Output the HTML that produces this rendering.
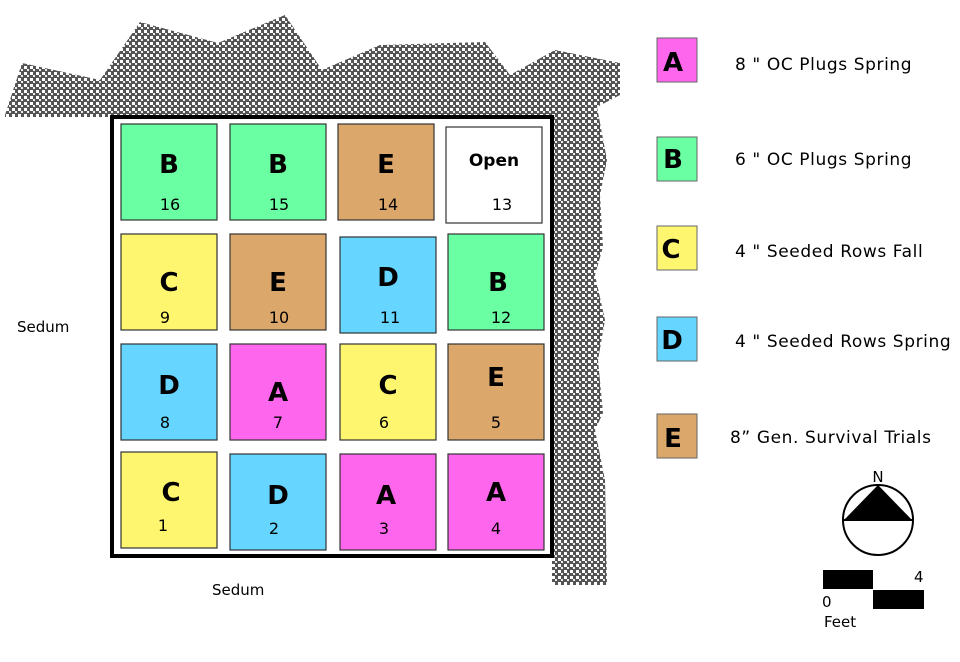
<!DOCTYPE html>
<html><head><style>
body{margin:0;background:#fff;}
svg{display:block;font-family:"DejaVu Sans","Liberation Sans",sans-serif;}
.L{font-size:26px;font-weight:bold;text-anchor:middle;}
.N{font-size:16px;text-anchor:middle;}
.t{font-size:17px;letter-spacing:0.6px;}
</style></head><body>
<svg width="960" height="662" viewBox="0 0 960 662">
<defs><pattern id="g" width="6" height="6" patternUnits="userSpaceOnUse">
<rect width="6" height="6" fill="#555"/><rect x="0" y="0" width="3" height="3" fill="#fff"/><rect x="3" y="3" width="2" height="2" fill="#eee"/></pattern></defs>
<polygon fill="url(#g)" points="5,115 22,63 100,80 140,22 218,43 285,15 322,70 380,45 485,42 510,75 555,50 620,63 620,95 597,107 607,160 600,195 603,247 595,275 605,320 598,360 603,413 595,430 605,480 607,585 552,585 552,117 112,117 5,117"/>
<rect x="112" y="117" width="440" height="439" fill="#fff" stroke="#000" stroke-width="4"/>
<g stroke="#333" stroke-width="1.2">
<rect x="121" y="124" width="96" height="96" fill="#6bffa3"/>
<rect x="230" y="124" width="96" height="96" fill="#6bffa3"/>
<rect x="338" y="124" width="96" height="96" fill="#dba76b"/>
<rect x="446" y="127" width="96" height="96" fill="#fff"/>
<rect x="121" y="234" width="96" height="96" fill="#fff670"/>
<rect x="230" y="234" width="96" height="96" fill="#dba76b"/>
<rect x="340" y="237" width="96" height="96" fill="#66d5ff"/>
<rect x="448" y="234" width="96" height="96" fill="#6bffa3"/>
<rect x="121" y="344" width="96" height="96" fill="#66d5ff"/>
<rect x="230" y="344" width="96" height="96" fill="#ff66ee"/>
<rect x="340" y="344" width="96" height="96" fill="#fff670"/>
<rect x="448" y="344" width="96" height="96" fill="#dba76b"/>
<rect x="121" y="452" width="96" height="96" fill="#fff670"/>
<rect x="230" y="454" width="96" height="96" fill="#66d5ff"/>
<rect x="340" y="454" width="96" height="96" fill="#ff66ee"/>
<rect x="448" y="454" width="96" height="96" fill="#ff66ee"/>
</g>
<g class="L">
<text x="169" y="173">B</text><text x="278" y="173">B</text><text x="386" y="173">E</text>
<text x="169" y="291">C</text><text x="278" y="291">E</text><text x="388" y="286">D</text><text x="498" y="291">B</text>
<text x="169" y="394">D</text><text x="278" y="401">A</text><text x="388" y="394">C</text><text x="496" y="386">E</text>
<text x="171" y="501">C</text><text x="278" y="504">D</text><text x="386" y="504">A</text><text x="496" y="501">A</text>
</g>
<text x="494" y="166" style="font-size:17px;font-weight:bold;text-anchor:middle">Open</text>
<g class="N">
<text x="170" y="210">16</text><text x="279" y="210">15</text><text x="388" y="210">14</text><text x="502" y="210">13</text>
<text x="165" y="323">9</text><text x="279" y="323">10</text><text x="390" y="323">11</text><text x="501" y="323">12</text>
<text x="165" y="428">8</text><text x="278" y="428">7</text><text x="384" y="428">6</text><text x="496" y="428">5</text>
<text x="163" y="531">1</text><text x="274" y="534">2</text><text x="384" y="534">3</text><text x="496" y="534">4</text>
</g>
<text x="17" y="332" style="font-size:15px">Sedum</text>
<text x="212" y="595" style="font-size:15px">Sedum</text>
<g stroke="#666" stroke-width="1">
<rect x="657" y="38" width="40" height="44" fill="#ff66ee"/>
<rect x="657" y="137" width="40" height="44" fill="#6bffa3"/>
<rect x="657" y="226" width="40" height="44" fill="#fff670"/>
<rect x="657" y="317" width="40" height="44" fill="#66d5ff"/>
<rect x="657" y="414" width="40" height="44" fill="#dba76b"/>
</g>
<g class="L">
<text x="673" y="71">A</text><text x="673" y="168">B</text><text x="671" y="258">C</text><text x="672" y="349">D</text><text x="673" y="447">E</text>
</g>
<g class="t">
<text x="735" y="70">8 "  OC Plugs  Spring</text>
<text x="735" y="165">6 "  OC  Plugs  Spring</text>
<text x="735" y="257">4 "  Seeded Rows  Fall</text>
<text x="735" y="347">4 "  Seeded Rows Spring</text>
<text x="730" y="443">8”  Gen. Survival Trials</text>
</g>
<text x="878" y="482" style="font-size:15px;text-anchor:middle">N</text>
<circle cx="878" cy="520" r="35" fill="#fff" stroke="#000" stroke-width="2"/>
<polygon points="878,485 844,520 912,520" fill="#000"/>
<line x1="842" y1="520" x2="914" y2="520" stroke="#000" stroke-width="2"/>
<rect x="823" y="570" width="50" height="19" fill="#000"/>
<rect x="873" y="590" width="51" height="19" fill="#000"/>
<text x="914" y="582" style="font-size:15px">4</text>
<text x="822" y="607" style="font-size:15px">0</text>
<text x="824" y="627" style="font-size:15px">Feet</text>
</svg>
</body></html>
